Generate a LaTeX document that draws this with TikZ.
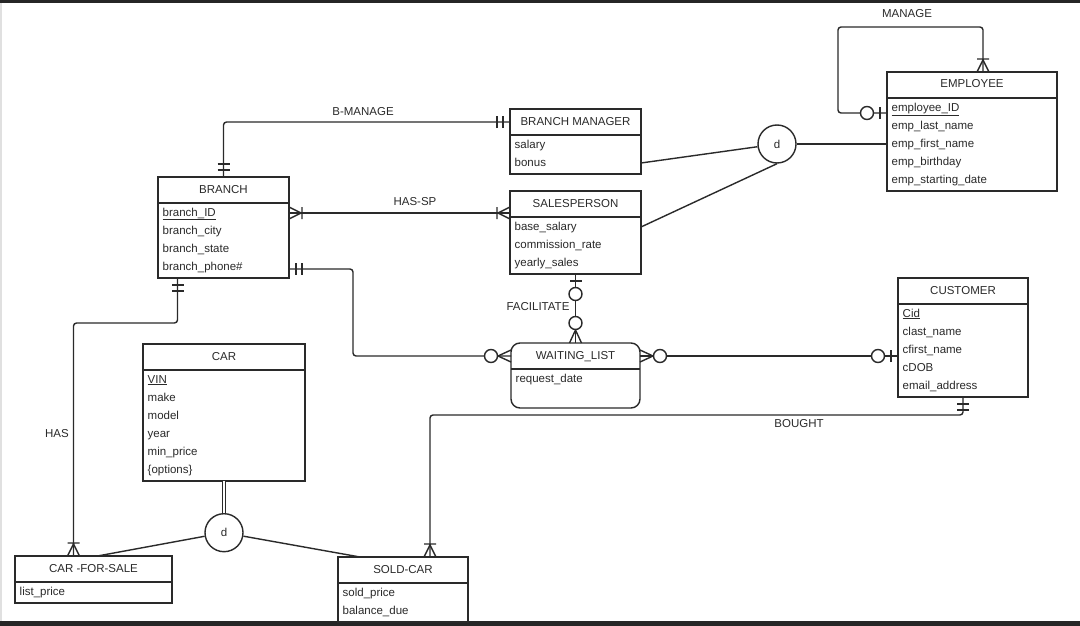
\documentclass[tikz,border=0pt]{standalone}
\usepackage{fontspec}
\setmainfont{Liberation Sans}
\usepackage{tikz}
\usetikzlibrary{positioning,calc}

\definecolor{lc}{HTML}{2A2A2A}

% 实体: [样式]{名}{左上角}{宽}{行数}{标题}{属性}
\newcommand{\erentity}[7][]{%
  \node[entity, anchor=north west, minimum width=#4pt, minimum height={29pt+18pt*#5}, #1] (#2) at (#3) {};
  \draw ([yshift=-26pt]#2.north west) -- ([yshift=-26pt]#2.north east);
  \coordinate (#2-head) at ([yshift=-13pt]#2.north);
  \node[enttitle] (#2-title) at ([yshift=-13pt]#2.north) {#6};
  \foreach \a [count=\i] in {#7}
    \node[entattr] (#2-\i) at ([xshift=3pt, yshift={-(18+18*\i)*1pt}]#2.north west) {\a};
}

\tikzset{
  entity/.style={draw, rectangle, fill=white, inner sep=0pt, outer sep=0pt},
  enttitle/.style={inner sep=1pt, text height=8.5pt, text depth=2.5pt},
  entattr/.style={anchor=west, inner sep=1pt, text height=8.5pt, text depth=2.5pt},
  dsj/.style={draw, circle, fill=white, minimum size=38pt, inner sep=0pt},
  lbl/.style={inner sep=1pt},
  rel/.style={rounded corners=3pt},
  % 基数符号 (x 轴指向远离实体的方向)
  mandone/.pic={\draw (7,-6) -- (7,6) (13,-6) -- (13,6);},
  mandmany/.pic={\draw (0,-6) -- (12,0) -- (0,6) (13,-6) -- (13,6);},
  optone/.pic={\draw (7,-6) -- (7,6); \draw[fill=white] (20,0) circle[radius=6.5pt];},
  optmany/.pic={\draw (0,-6) -- (13,0) -- (0,6); \draw[fill=white] (20,0) circle[radius=6.5pt];}
}

\begin{document}
\begin{tikzpicture}[x=1pt, y=-1pt, color=lc, line width=1.4pt,
    font=\fontsize{11.5}{13}\selectfont]
  \useasboundingbox (0,0) rectangle (1080,626);
  % 背景与边框
  \fill[white] (0,0) rectangle (1080,626);
  \fill[black!85] (0,0) rectangle (1080,3);
  \fill[black!85] (0,621) rectangle (1080,626);
  \fill[black!12] (0,3) rectangle (2,621);

  % 实体
  \erentity{employee}{887,72}{170}{5}{EMPLOYEE}{\underline{employee\_ID}, emp\_last\_name, emp\_first\_name, emp\_birthday, emp\_starting\_date}
  \erentity{bm}{510,109}{131}{2}{BRANCH MANAGER}{salary, bonus}
  \erentity{sp}{510,191}{131}{3}{SALESPERSON}{base\_salary, commission\_rate, yearly\_sales}
  \erentity{branch}{158,177}{131}{4}{BRANCH}{\underline{branch\_ID}, branch\_city, branch\_state, branch\_phone\#}
  \erentity{customer}{898,278}{130}{5}{CUSTOMER}{\underline{Cid}, clast\_name, cfirst\_name, cDOB, email\_address}
  \erentity[rounded corners=9pt]{wl}{511,343}{129}{2}{WAITING\_LIST}{request\_date}
  \erentity{car}{143,344}{162}{6}{CAR}{\underline{VIN}, make, model, year, min\_price, \{options\}}
  \erentity{cfs}{15,556}{157}{1}{CAR -FOR-SALE}{list\_price}
  \erentity{sold}{338,557}{130}{2}{SOLD-CAR}{sold\_price, balance\_due}

  % 特化圆
  \node[dsj] (d1) at (777,144) {d};
  \node[dsj, below=32pt of car] (d2) {d};

  \draw (d1.east) -- (d1.east -| employee.west);
  \draw (bm.east |- bm-2) -- (d1);
  \draw (sp.east |- sp-1) -- (d1.south);
  \draw[double, double distance=2.5pt, line width=1.2pt] (car.south) -- (d2.north);
  \draw (d2) -- ($(cfs.north)+(4,0)$);
  \draw (d2) -- ($(sold.north)+(-43,0)$);

  % 联系
  \draw[rel] ($(employee.west |- employee-1)+(0,5)$) coordinate (mg) -- ++(-49,0)
    |- ($(employee.north)+(11,-45)$) -- ($(employee.north)+(11,0)$) coordinate (mgtop);
  \draw[rel] (branch.north) |- (bm.west |- bm-head) coordinate (bmin);
  \draw (branch.east |- branch-1) -- (sp.west |- branch-1) coordinate (spin);
  \draw[rel] ($(branch.east |- branch-4)+(0,2)$) coordinate (ph) -- ++(64,0)
    |- (wl.west |- wl-head) coordinate (wlin);
  \draw (sp.south) -- (wl.north);
  \draw (wl.east |- wl-head) coordinate (wlout) -- (customer.west |- wl-head) coordinate (cuin);
  \draw[rel] (customer.south) -- ++(0,18) -| ($(sold.north)+(27,0)$) coordinate (sdin);
  \draw[rel] ($(branch.south)+(-46,0)$) coordinate (bhas) -- ++(0,45)
    -| ($(cfs.north)+(-20,0)$) coordinate (cfsin);

  % 基数
  \pic[rotate=180] at (mg) {optone};
  \pic[rotate=90] at (mgtop) {mandmany};
  \pic[rotate=90] at (branch.north) {mandone};
  \pic[rotate=180] at (bmin) {mandone};
  \pic at (branch.east |- branch-1) {mandmany};
  \pic[rotate=180] at (spin) {mandmany};
  \pic at (ph) {mandone};
  \pic[rotate=180] at (wlin) {optmany};
  \pic[rotate=270] at (sp.south) {optone};
  \pic[rotate=90] at (wl.north) {optmany};
  \pic at (wlout) {optmany};
  \pic[rotate=180] at (cuin) {optone};
  \pic[rotate=270] at (customer.south) {mandone};
  \pic[rotate=90] at (sdin) {mandmany};
  \pic[rotate=270] at (bhas) {mandone};
  \pic[rotate=90] at (cfsin) {mandmany};

  % 标签
  \node[lbl] (l-manage) at (907,14) {MANAGE};
  \node[lbl] (l-bmanage) at (363,112) {B-MANAGE};
  \node[lbl] (l-hassp) at (415,202) {HAS-SP};
  \node[lbl] (l-facil) at (538,307) {FACILITATE};
  \node[lbl] (l-bought) at (799,424) {BOUGHT};
  \node[lbl] (l-has) at (57,434) {HAS};
\end{tikzpicture}
\end{document}
